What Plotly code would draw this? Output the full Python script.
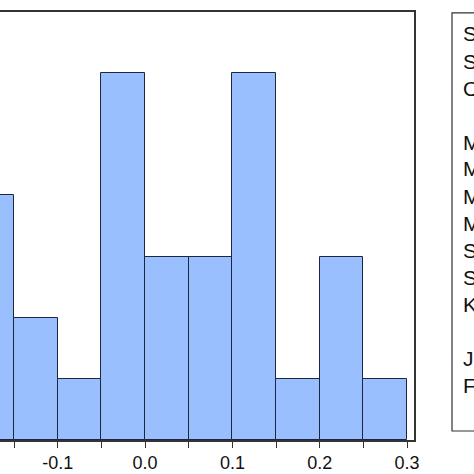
import plotly.graph_objects as go

# histogram bins (left edge cut off in the reference)
bin_centers = [-0.175, -0.125, -0.075, -0.025, 0.025, 0.075, 0.125, 0.175, 0.225, 0.275]
counts = [8, 4, 2, 12, 6, 6, 12, 2, 6, 2]
bin_width = 0.05

tick_vals = [-0.1, 0.0, 0.1, 0.2, 0.3]
tick_labels = ["-0.1", "0.0", "0.1", "0.2", "0.3"]

stat_labels = ["Series: Residuals", "Sample", "Observations", "",
               "Mean", "Median", "Maximum", "Minimum", "Std. Dev.",
               "Skewness", "Kurtosis", "", "Jarque-Bera", "F-Probability"]

fig = go.Figure(go.Bar(
    x=bin_centers, y=counts, width=bin_width,
    marker=dict(color="#99BFFF", line=dict(color="#1C2640", width=1)),
))

fig.update_layout(
    width=474, height=474,
    margin=dict(l=0, r=60, t=12, b=34),
    paper_bgcolor="white", plot_bgcolor="white",
    font=dict(family="Liberation Sans, Arial, sans-serif", color="#111"),
    showlegend=False,
    bargap=0,
)
fig.update_xaxes(
    range=[-0.1662, 0.308], tickvals=tick_vals, ticktext=tick_labels,
    ticks="outside", ticklen=6, tickcolor="#333", tickfont=dict(size=18),
    minor=dict(dtick=0.05, ticks="outside", ticklen=6, tickcolor="#333"),
    showline=True, linecolor="#333", linewidth=1.5, mirror=True,
    showgrid=False, zeroline=False,
)
fig.update_yaxes(
    range=[0, 14], showticklabels=False, ticks="",
    showline=True, linecolor="#333", linewidth=1.5, side="right",
    showgrid=False, zeroline=False,
)

# stats box to the right (cut off by the page edge)
fig.add_shape(type="rect", xref="paper", yref="paper", layer="below",
              x0=1.0918, x1=1.4, y0=0.021, y1=0.998,
              line=dict(color="#333", width=1.2), fillcolor="rgba(0,0,0,0)")
plot_h = 428
for i, lab in enumerate(stat_labels):
    if not lab:
        continue
    fig.add_annotation(
        xref="paper", yref="paper", x=1.1138, y=(406 - 27 * i) / plot_h,
        xanchor="left", yanchor="middle", align="left", showarrow=False,
        text=lab, font=dict(size=21, color="#111"),
    )

fig.write_html("out.html", config={"displayModeBar": False},
               post_script="document.body.style.margin='0';"
                           "document.body.style.overflow='hidden';")
